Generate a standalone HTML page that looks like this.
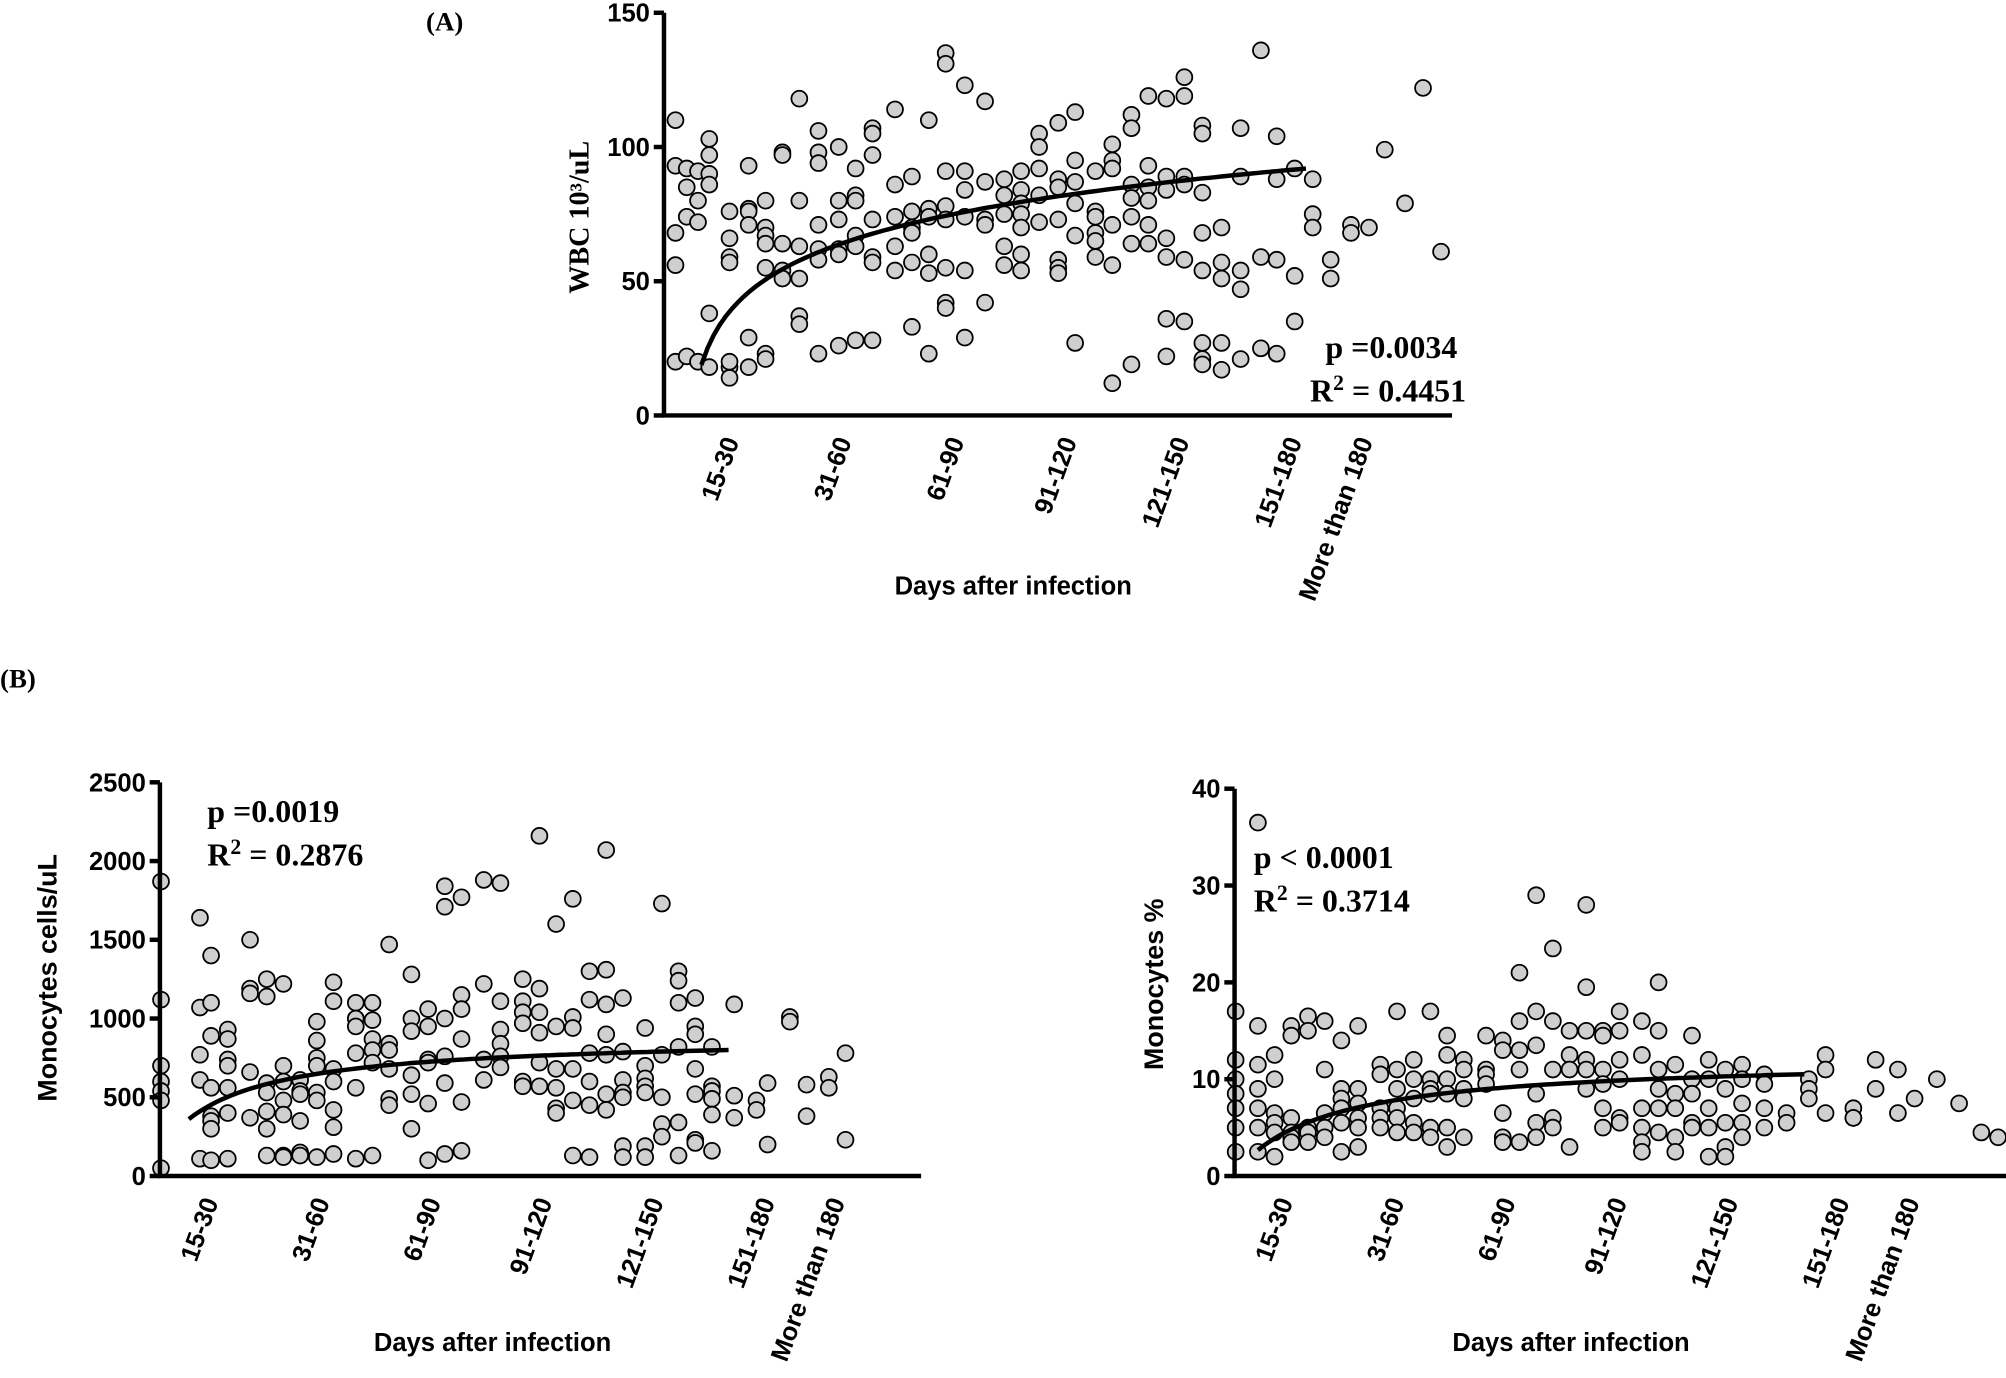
<!DOCTYPE html>
<html><head><meta charset="utf-8"><style>html,body{margin:0;padding:0;background:#fff}svg{display:block}</style></head>
<body>
<svg id="fig" width="2006" height="1378" viewBox="0 0 1568 1078" preserveAspectRatio="none" xmlns="http://www.w3.org/2000/svg"></svg>
<script>
// Chart A: WBC
const wbcDays=[0.5,0.6,0.7,0.8,0.98,1.15,1.3,1.45,1.6,1.77,1.95,2.1,2.25,2.45,2.6,2.75,2.9,3.07,3.25,3.42,3.57,3.73,3.9,4.05,4.23,4.38,4.55,4.7,4.86,5.02,5.18,5.35,5.52,5.7,5.84,6.0,6.16,6.32,6.5,6.66,6.8,6.98,7.14,7.3];
const wbcValues=[[110,93,68,56,20],[92,85,74,22],[72,91,80,20],[103,97,90,38,18,86],[76,66,59,57,18,14,20],[93,77,76,71,29,18],[80,70,67,64,55,23,21],[98,97,64,54,51],[118,80,63,51,37,34],[106,98,94,71,62,58,23],[100,80,73,62,60,26],[92,82,80,67,63,28],[107,105,97,73,59,57,28],[114,86,74,63,54],[89,76,70,68,57,33],[110,77,74,60,53,23],[135,131,91,78,73,55,42,40],[123,91,84,74,54,29],[117,87,73,71,42],[88,82,75,63,56],[91,84,79,75,70,60,54],[105,100,92,82,72],[109,88,85,73,58,55,53],[113,95,87,79,67,27],[91,76,74,68,65,59],[101,95,92,71,56,12],[112,107,86,81,74,64,19],[119,93,85,80,71,64],[118,89,84,66,59,36,22],[126,119,89,86,58,35],[108,105,83,68,54,27,21,19],[70,57,51,27,17],[107,89,54,47,21],[136,59,25],[104,88,58,23],[92,52,35],[88,75,70],[58,51],[71,68],[70],[99],[79],[122],[61]];
const wbcFit=[57.3,20.3,0.58,0.73,6.1];
// Chart B left: monocyte counts
const monoDays=[0.55,0.9,1.0,1.15,1.35,1.5,1.65,1.8,1.95,2.1,2.3,2.45,2.6,2.8,2.95,3.1,3.25,3.45,3.6,3.8,3.95,4.1,4.25,4.4,4.55,4.7,4.9,5.05,5.2,5.35,5.5,5.7,5.9,6.0,6.2,6.35,6.55,6.7];
const monoValues=[[1870,1120,700,600,540,480,50],[1640,1070,770,610,110],[1400,1100,890,560,380,350,300,100],[930,870,740,700,560,400,110],[1500,1190,1160,660,370],[1250,1140,590,530,410,300,130],[1220,700,600,480,390,130,120],[610,540,520,350,150,130],[980,860,750,700,530,480,120],[1230,1110,680,600,420,310,140],[1100,1000,950,780,560,110],[1100,990,870,800,720,130],[1470,840,800,680,490,450],[1280,1000,920,640,520,300],[1060,950,740,720,460,100],[1840,1710,1000,760,590,140],[1770,1150,1060,870,470,160],[1880,1220,740,610],[1860,1110,930,840,760,690],[1250,1110,1040,970,600,570],[2160,1190,1040,910,720,570],[1600,950,680,560,430,400],[1760,1010,940,680,480,130],[1300,1120,780,600,450,120],[2070,1310,1090,900,770,520,420],[1130,790,610,530,500,190,120],[940,700,620,570,530,190,120],[1730,770,500,330,250],[1300,1240,1100,820,340,130],[1130,950,900,680,520,230,210],[820,570,540,490,390,160],[1090,510,370],[480,420],[590,200],[1010,980],[580,380],[630,560],[780,230]];
const monoFit=[350,536,0.93,0.8,5.65];
// Chart B right: monocyte %
const pctDays=[0.55,0.75,0.9,1.05,1.2,1.35,1.5,1.65,1.85,2.0,2.15,2.3,2.45,2.6,2.8,2.95,3.1,3.25,3.4,3.55,3.7,3.85,4.0,4.2,4.35,4.5,4.65,4.8,4.95,5.1,5.3,5.5,5.7,5.85,6.1,6.3,6.5,6.65,6.85,7.05,7.25,7.4];
const pctValues=[[17,12,10,8.5,7,5,2.5],[36.5,15.5,11.5,9,7,5,2.5],[12.5,10,6.5,5.5,4.5,2],[15.5,14.5,6,4.5,4,3.5],[16.5,15,5,4.5,3.5],[16,11,6.5,5,4],[14,9,8,7,5.5,2.5],[15.5,9,7.5,6,5,3],[11.5,10.5,7,6,5],[17,11,9,7,6,4.5],[12,10,8,5.5,4.5],[17,10,9,8.5,5,4],[14.5,12.5,10,8.5,5,3],[12,11,9,8,4],[14.5,11,10.5,9.5],[14,13,6.5,4,3.5],[21,16,13,11,3.5],[29,17,13.5,8.5,5.5,4],[23.5,16,11,6,5],[15,12.5,11,3],[28,19.5,15,12,11,9],[15,14.5,11,9.5,7,5],[17,15,12,10,6,5.5],[16,12.5,7,5,3.5,2.5],[20,15,11,9,7,4.5],[11.5,8.5,7,4,2.5],[14.5,10,8.5,5.5,5],[12,10,7,5,2],[11,9,5.5,3,2],[11.5,10,7.5,5.5,4],[10.5,9.5,7,5],[6.5,5.5],[10,9,8],[12.5,11,6.5],[7,6,6],[12,9],[11,6.5],[8],[10],[7.5],[4.5],[4]];
const pctFit=[2.5,9.67,1.02,0.75,5.66];
const catLabels=["15-30","31-60","61-90","91-120","121-150","151-180","More than 180"];
const catPos=[1,2,3,4,5,6,6.63];

const NS="http://www.w3.org/2000/svg";
const svg=document.getElementById('fig');
function mk(tag,attrs,parent){const e=document.createElementNS(NS,tag);for(const k in attrs)e.setAttribute(k,attrs[k]);(parent||svg).appendChild(e);return e;}
function txt(s,attrs,parent){const e=mk('text',attrs,parent);e.textContent=s;return e;}

function chart(cfg){
  const g=mk('g',{});
  
  
  const xs=u=>cfg.x1+(u-1)*cfg.sp;
  const ys=v=>cfg.yb-(v/cfg.ymax)*(cfg.yb-cfg.yt);
  const pg=mk('g',{},g);
  
  
  cfg.days.forEach((d,i)=>{cfg.vals[i].forEach(v=>{
    const c=mk('circle',{cx:xs(d),cy:ys(v),r:6.2,fill:'#cfcfcf',stroke:'#000','stroke-width':1.4},pg);
    
    
  });});
  const f=cfg.fit;let p='';
  for(let i=0;i<=100;i++){const u=f[3]+(f[4]-f[3])*i/100;let v;
    if(cfg.log){v=f[0]+f[1]*Math.log(u-f[2]);}else{const du=u-f[3]+0.02;v=f[0]+f[1]*du/(f[2]+du);}
    p+=(i?'L':'M')+xs(u).toFixed(1)+','+ys(v).toFixed(1);}
  const fc=mk('path',{d:p,fill:'none',stroke:'#000','stroke-width':3.5},g);
  
  
  const ya=mk('line',{x1:cfg.ax,y1:cfg.yt,x2:cfg.ax,y2:cfg.yb+1.5,stroke:'#000','stroke-width':3.5},g);
  
  
  const xa=mk('line',{x1:cfg.ax-1.5,y1:cfg.yb,x2:cfg.xe,y2:cfg.yb,stroke:'#000','stroke-width':3.5},g);
  
  
  cfg.yticks.forEach(t=>{
    const y=ys(t);
    mk('line',{x1:cfg.ax-8,y1:y,x2:cfg.ax,y2:y,stroke:'#000','stroke-width':3.5},g);
    const l=txt(String(t),{x:cfg.ax-11,y:y+7,'text-anchor':'end','font-family':'Liberation Sans, sans-serif','font-weight':'bold','font-size':20},g);
    
    
  });
  catLabels.forEach((s,i)=>{
    const x=xs(catPos[i]);
    const l=txt(s,{x:0,y:0,transform:`translate(${x+6},${cfg.yb+20}) rotate(-70)`,'text-anchor':'end','font-family':'Liberation Sans, sans-serif','font-weight':'bold','font-size':20},g);
    
    
  });
  const xt=txt('Days after infection',{x:cfg.xtx,y:cfg.xty,'text-anchor':'middle','font-family':'Liberation Sans, sans-serif','font-weight':'bold','font-size':20},g);
  
  
  const yt=txt(cfg.ytitle,{x:0,y:0,transform:`translate(${cfg.ytx},${cfg.yty}) rotate(-90)`,'text-anchor':'middle','font-family':cfg.yfont,'font-weight':'bold','font-size':cfg.yfs},g);
  
  
  const pv=txt(cfg.p,{x:cfg.px,y:cfg.py,'font-family':'Liberation Serif, serif','font-weight':'bold','font-size':25},g);
  
  
  const r2=mk('text',{x:cfg.px-(cfg.r2dx||0),y:cfg.py+34,'font-family':'Liberation Serif, serif','font-weight':'bold','font-size':25},g);
  
  
  r2.innerHTML='R<tspan dy="-9" font-size="17">2</tspan><tspan dy="9"> = '+cfg.r2+'</tspan>';
}

chart({name:'wbc-chart',log:true,days:wbcDays,vals:wbcValues,fit:wbcFit,x1:572,sp:88,ax:519,xe:1135,yt:10,yb:325,ymax:150,yticks:[0,50,100,150],
  xtx:792,xty:465,ytitle:'WBC 10³/uL',ytx:460,yty:170,yfont:'Liberation Serif, serif',yfs:22,p:'p =0.0034',px:1036,py:280,r2:'0.4451',r2dx:12});
chart({name:'monocyte-count-chart',days:monoDays,vals:monoValues,fit:monoFit,x1:165,sp:87,ax:125,xe:720,yt:612,yb:920,ymax:2500,yticks:[0,500,1000,1500,2000,2500],
  xtx:385,xty:1057,ytitle:'Monocytes cells/uL',ytx:44,yty:765,yfont:'Liberation Sans, sans-serif',yfs:21,p:'p =0.0019',px:162,py:643,r2:'0.2876'});
chart({name:'monocyte-percent-chart',days:pctDays,vals:pctValues,fit:pctFit,x1:1005,sp:87,ax:965,xe:1568,yt:617,yb:920,ymax:40,yticks:[0,10,20,30,40],
  xtx:1228,xty:1057,ytitle:'Monocytes %',ytx:909,yty:770,yfont:'Liberation Sans, sans-serif',yfs:21,p:'p < 0.0001',px:980,py:679,r2:'0.3714'});

const la=txt('(A)',{x:333,y:24,'font-family':'Liberation Serif, serif','font-weight':'bold','font-size':21});


const lb=txt('(B)',{x:0,y:538,'font-family':'Liberation Serif, serif','font-weight':'bold','font-size':21});


</script>
</body></html>
